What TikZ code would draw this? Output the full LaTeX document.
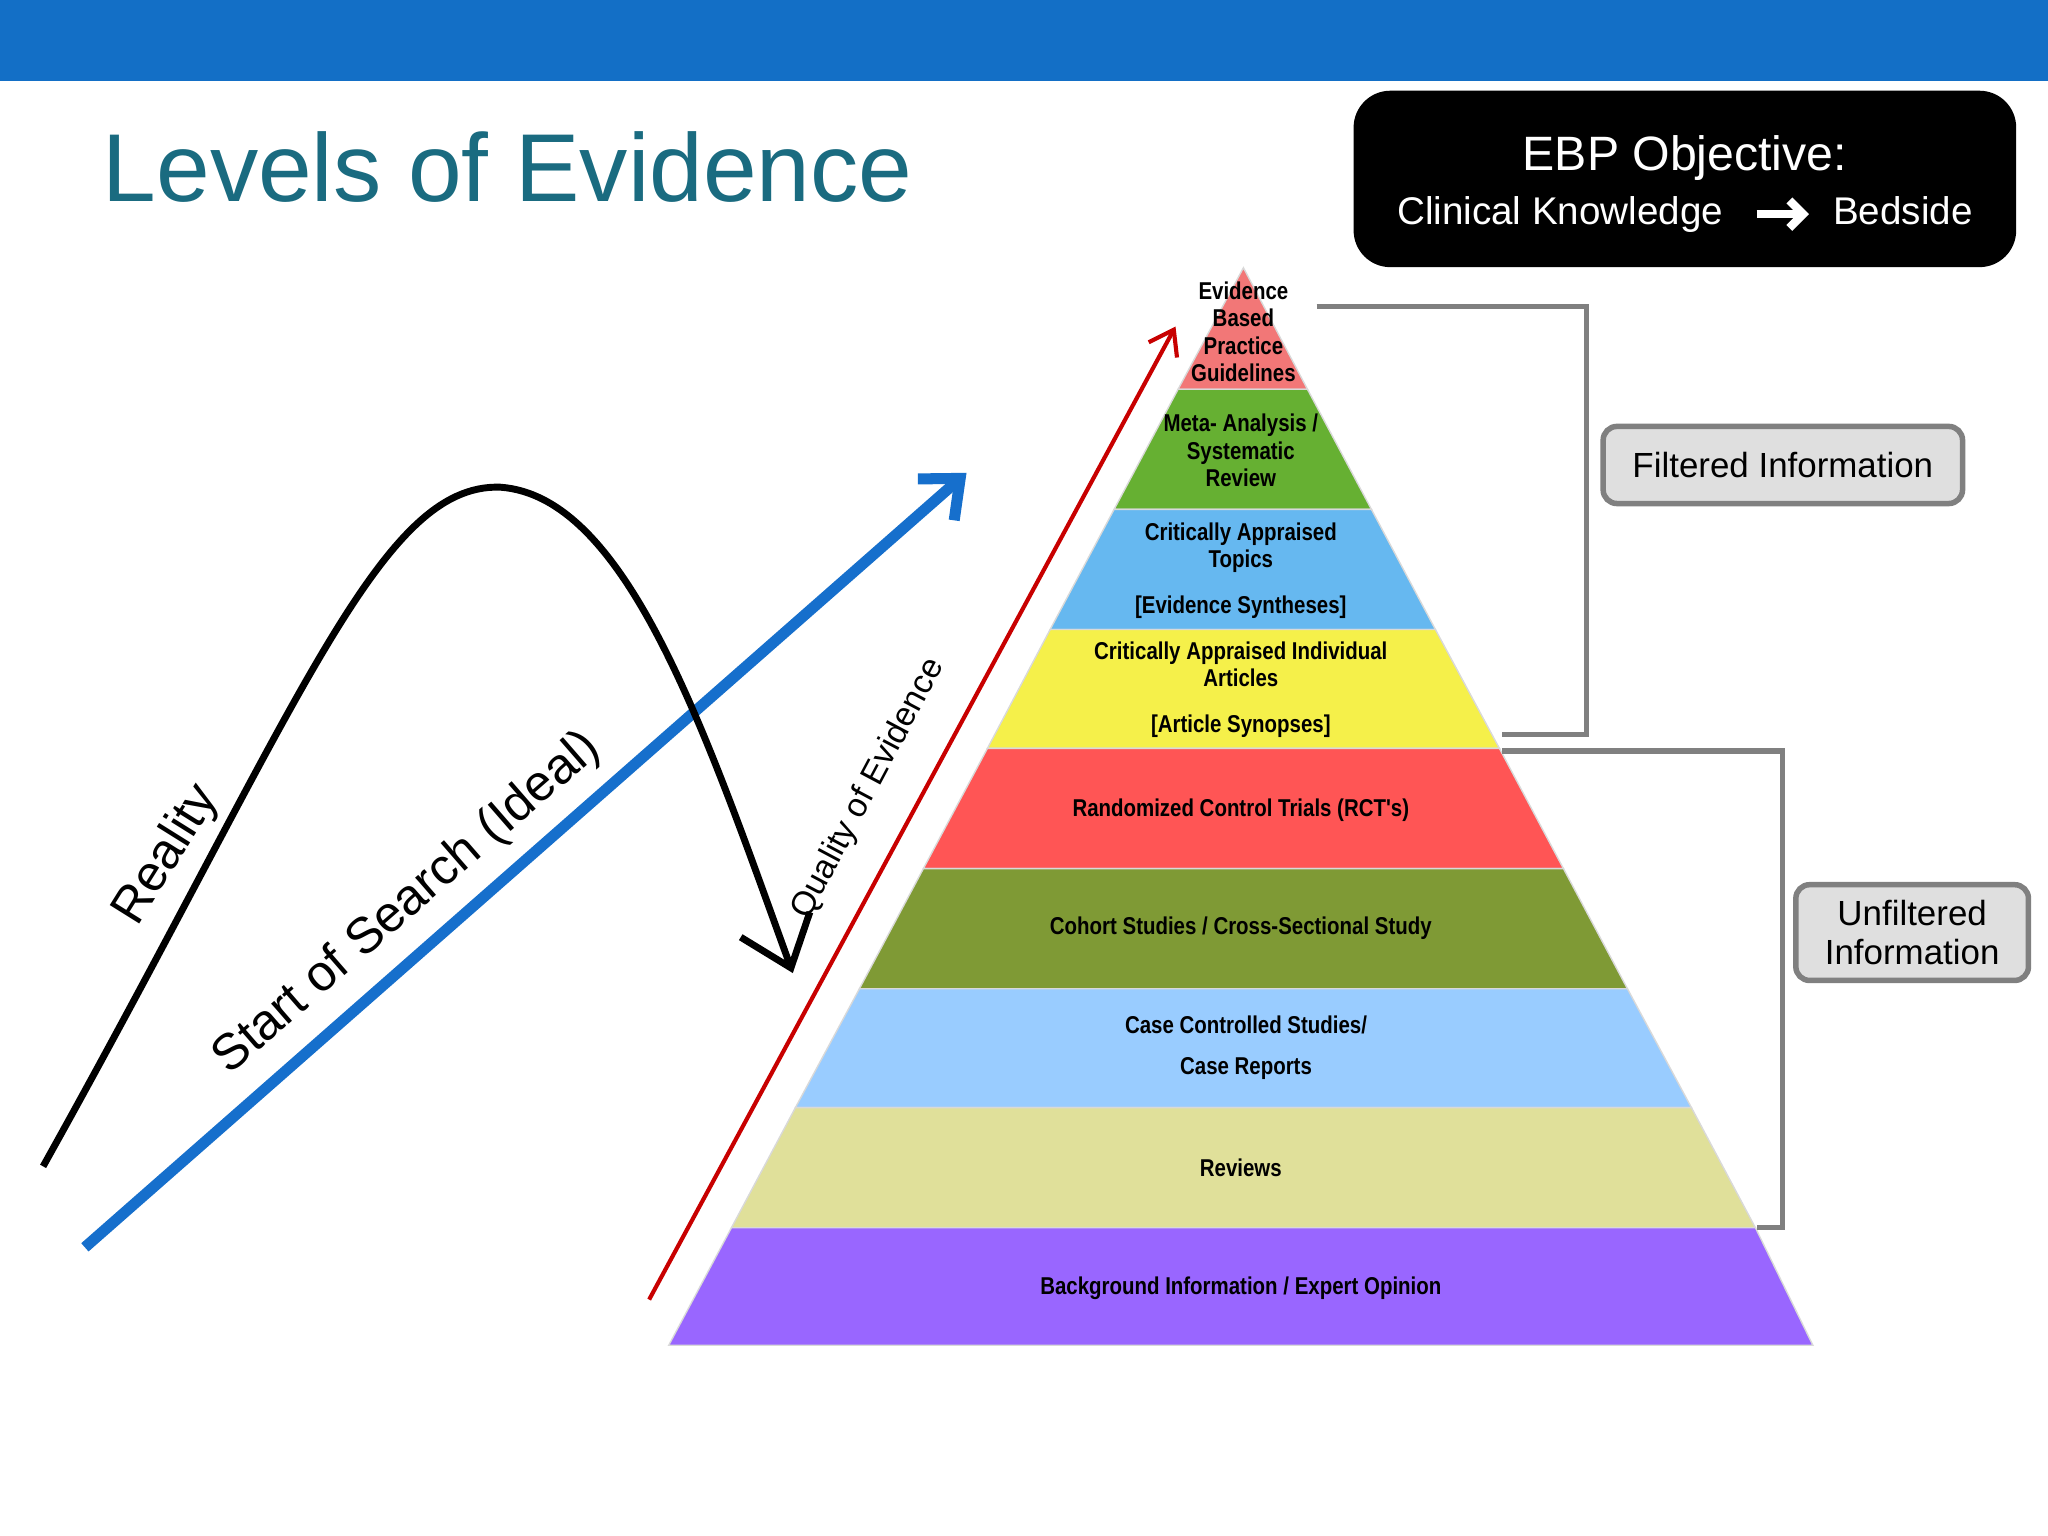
\documentclass[tikz,border=0pt]{standalone}
\usepackage{fontspec}
\setmainfont{Liberation Sans}
\newfontfamily\narrowfont[FakeStretch=0.84]{Liberation Sans}
\usetikzlibrary{arrows.meta}
\definecolor{barblue}{HTML}{136FC6}
\definecolor{titleteal}{HTML}{1A6B80}
\definecolor{brgray}{HTML}{808080}
\definecolor{c1}{HTML}{F27777}
\definecolor{c2}{HTML}{66B032}
\definecolor{c3}{HTML}{66B8F0}
\definecolor{c4}{HTML}{F5F04A}
\definecolor{c5}{HTML}{FF5555}
\definecolor{c6}{HTML}{7F9A35}
\definecolor{c7}{HTML}{99CCFF}
\definecolor{c8}{HTML}{E0E09A}
\definecolor{c9}{HTML}{9966FF}
\definecolor{arrblue}{HTML}{166FCC}
\definecolor{arrred}{HTML}{C80000}
\tikzset{
 lay/.style={draw=white!70!gray,line width=0.3pt},
 lt/.style={font=\narrowfont\bfseries\fontsize{5.3}{6}\selectfont,align=center},
 gbox/.style={draw=brgray,line width=1.2pt,fill=gray!25,rounded corners=3pt,font=\fontsize{7.6}{8.6}\selectfont,align=center},
 brk/.style={draw=brgray,line width=1.1pt}
}
\begin{document}
\begin{tikzpicture}[x=0.01cm,y=-0.01cm]
\useasboundingbox (0,0) rectangle (1568,1176);
\fill[white] (0,0) rectangle (1568,1176);
\fill[barblue] (0,0) rectangle (1568,62);
\node[anchor=west,text=titleteal,font=\fontsize{21}{25}\selectfont,inner sep=0pt] (title) at (78,128) {Levels of Evidence};
\node[fill=black,rounded corners=8pt,minimum width=5.07cm,minimum height=1.35cm] (obj) at (1290,137) {};
\node[text=white,font=\fontsize{10.5}{12}\selectfont] (o1) at (1290,121) {EBP Objective:};
\node[text=white,font=\fontsize{8.4}{10}\selectfont,anchor=base west,inner sep=0pt] (o2a) at (1069,172) {Clinical Knowledge};
\node[text=white,font=\fontsize{8.4}{10}\selectfont,anchor=base east,inner sep=0pt] (o2b) at (1511,172) {Bedside};
\coordinate (aa) at (1345,164); \coordinate (ab) at (1385,164);
\draw[white,line width=1.8pt,-{Straight Barb[length=3pt,width=6pt]}] (aa) -- (ab);
% pyramid
\fill[lay,fill=c1] (952,205) -- (1001,298) -- (902,298) -- cycle;
\fill[lay,fill=c2] (902,298) -- (1001,298) -- (1050,390) -- (853,390) -- cycle;
\fill[lay,fill=c3] (853,390) -- (1050,390) -- (1099,482) -- (804,482) -- cycle;
\fill[lay,fill=c4] (804,482) -- (1099,482) -- (1148,573) -- (756,573) -- cycle;
\fill[lay,fill=c5] (756,573) -- (1148,573) -- (1197,665) -- (707,665) -- cycle;
\fill[lay,fill=c6] (707,665) -- (1197,665) -- (1246,757) -- (658,757) -- cycle;
\fill[lay,fill=c7] (658,757) -- (1246,757) -- (1295,848) -- (609,848) -- cycle;
\fill[lay,fill=c8] (609,848) -- (1295,848) -- (1344,940) -- (560,940) -- cycle;
\fill[lay,fill=c9] (560,940) -- (1344,940) -- (1388,1030) -- (512,1030) -- cycle;
\node[lt] (l1) at (952,254) {Evidence\\Based\\Practice\\Guidelines};
\node[lt] (l2) at (950,345) {Meta- Analysis /\\Systematic\\Review};
\node[lt] (l3) at (950,437) {Critically Appraised\\Topics\\[4pt][Evidence Syntheses]};
\node[lt] (l4) at (950,528) {Critically Appraised Individual\\Articles\\[4pt][Article Synopses]};
\node[lt] (l5) at (950,620) {Randomized Control Trials (RCT's)};
\node[lt] (l6) at (950,711) {Cohort Studies / Cross-Sectional Study};
\node[lt] (l7) at (954,802) {Case Controlled Studies/\\[3pt]Case Reports};
\node[lt] (l8) at (950,894) {Reviews};
\node[lt] (l9) at (950,986) {Background Information / Expert Opinion};
% brackets
\draw[brk] (1008,235) -- (1215,235) -- (1215,562) -- (1150,562);
\draw[brk] (1150,575) -- (1365,575) -- (1365,940) -- (1345,940);
\node[gbox,minimum width=2.75cm,minimum height=0.59cm] (fi) at (1365,356) {Filtered Information};
\node[gbox,minimum width=1.78cm,minimum height=0.65cm] (ui) at (1464,714) {Unfiltered\\Information};
% arrows
\coordinate (b0) at (65,955); \coordinate (b1) at (740,362);
\draw[arrblue,line width=2.4pt,-{Straight Barb[length=7pt,width=12pt]}] (b0) -- (b1);
\coordinate (r0) at (497,995); \coordinate (r1) at (900,250);
\draw[arrred,line width=0.9pt,-{Straight Barb[length=5pt,width=7pt]}] (r0) -- (r1);
\coordinate (k0) at (33,893); \coordinate (k1) at (607,745);
\draw[black,line width=1.5pt,-{Straight Barb[length=10pt,width=16pt]}] (k0) .. controls (230,540) and (290,370) .. (383,373) .. controls (480,380) and (540,560) .. (k1);
\node[rotate=58,font=\fontsize{11}{13}\selectfont] (re) at (128,655) {Reality};
\node[rotate=41,font=\fontsize{11}{13}\selectfont] (ss) at (312,692) {Start of Search (Ideal)};
\node[rotate=62,font=\fontsize{7.3}{9}\selectfont] (qe) at (665,604) {Quality of Evidence};
\end{tikzpicture}
\end{document}
